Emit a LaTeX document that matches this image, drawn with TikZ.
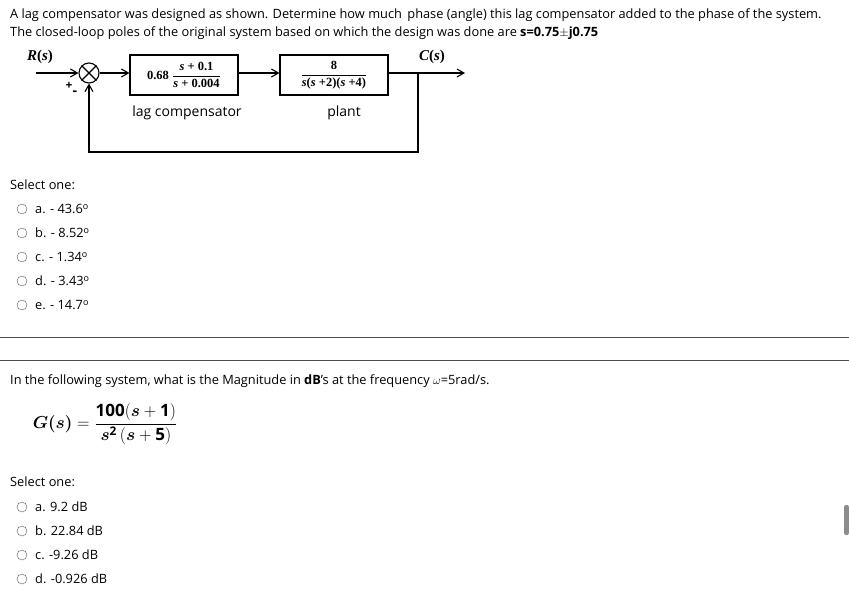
\documentclass[tikz,border=0pt]{standalone}
\usepackage{amsmath}
\usepackage{fontspec}
\setmainfont{Open Sans}
\newfontfamily\tnr{Liberation Serif}
\usetikzlibrary{arrows.meta}
\newcommand{\tb}[1]{\mbox{\tnr\bfseries #1}}
\newcommand{\ti}{\textit{s}}
\begin{document}
\begin{tikzpicture}[x=1pt,y=-1pt,
  txt/.style={anchor=west,inner sep=0pt,font=\fontsize{12.8}{15}\selectfont},
  opt/.style={circle,draw=black!65,minimum size=10pt,inner sep=0pt},
  blk/.style={draw,line width=1.1pt,minimum width=108pt,minimum height=40pt,inner sep=0pt},
  sig/.style={line width=1.1pt,-{Straight Barb[length=7pt,width=8pt]}}]
\useasboundingbox (0,0) rectangle (849,594);
\node[txt] (q1a) at (10,15) {A lag compensator was designed as shown. Determine how much\, phase (angle) this lag compensator added to the phase of the system.};
\node[txt] (q1b) at (10,33) {The closed-loop poles of the original system based on which the design was done are \textbf{s=0.75$\pm$j0.75}};
% block diagram
\node[circle,draw,line width=1.1pt,minimum size=20pt,inner sep=0pt] (sum) at (89,73) {};
\draw[line width=1.1pt] (sum.north west)--(sum.south east) (sum.north east)--(sum.south west);
\coordinate (rin) at (36,73);
\node[font=\fontsize{15}{16}\selectfont] (R) at (40,57) {\tb{\textit{R}(\textit{s})}};
\node[font=\bfseries\fontsize{12}{12}\selectfont] at (69,86) {+};
\node[font=\bfseries\fontsize{14}{12}\selectfont] at (75,93) {-};
\node[blk] (g1) at (184,75) {\fontsize{12.5}{14}\selectfont\tb{0.68} $\dfrac{\tb{\ti{} + 0.1}}{\tb{\ti{} + 0.004}}$};
\node[blk] (g2) at (334,75) {\fontsize{12.5}{14}\selectfont$\dfrac{\tb{8}}{\tb{\ti(\ti{} +2)(\ti{} +4)}}$};
\node[font=\fontsize{14}{16}\selectfont] (l1) at (187,113) {lag compensator};
\node[font=\fontsize{14}{16}\selectfont] (l2) at (344,113) {plant};
\node[font=\fontsize{15}{16}\selectfont] (C) at (432,57) {\tb{\textit{C}(\textit{s})}};
\coordinate (out) at (465,73);
\coordinate (br) at (418,73);
\coordinate (fb1) at (418,152);
\coordinate (fb2) at (89,152);
\draw[sig] (rin)--(sum.west);
\draw[sig] (sum.east)--(g1.west|-sum);
\draw[sig] (g1.east|-sum)--(g2.west|-sum);
\draw[sig] (g2.east|-sum)--(out);
\draw[sig] (br)--(fb1)--(fb2)--(sum.south);
% options 1
\node[txt] (s1) at (10,185) {Select one:};
\foreach \y/\t [count=\i] in {209/a. - 43.6\textsuperscript{o},233/b. - 8.52\textsuperscript{o},257/c. - 1.34\textsuperscript{o},281/d. - 3.43\textsuperscript{o},305/e. - 14.7\textsuperscript{o}}{
  \node[opt] (oa\i) at (22,\y) {};
  \node[txt] (ta\i) at (35,\y) {\t};
}
\draw[black!70] (0,337) coordinate (h1) -- (849,337) coordinate (h2);
\draw[black!70] (0,360) coordinate (h3) -- (849,360) coordinate (h4);
\node[txt] (q2) at (10,381) {In the following system, what is the Magnitude in \textbf{dB}'s at the frequency $\omega$=5rad/s.};
\node[font=\fontsize{17}{20}\selectfont] (G) at (105,424) {$\boldsymbol{G(s)} = \dfrac{\mathbf{100}(\boldsymbol{s}+\mathbf{1})}{\boldsymbol{s}^{\mathbf{2}}\,(\boldsymbol{s}+\mathbf{5})}$};
\node[txt] (s2) at (10,482) {Select one:};
\foreach \y/\t [count=\i] in {507/a. 9.2 dB,531/b. 22.84 dB,555/c. -9.26 dB,579/d. -0.926 dB}{
  \node[opt] (ob\i) at (22,\y) {};
  \node[txt] (tb\i) at (35,\y) {\t};
}
\fill[black!45,rounded corners=2pt] (844,505) rectangle (849,535);
\end{tikzpicture}
\end{document}
